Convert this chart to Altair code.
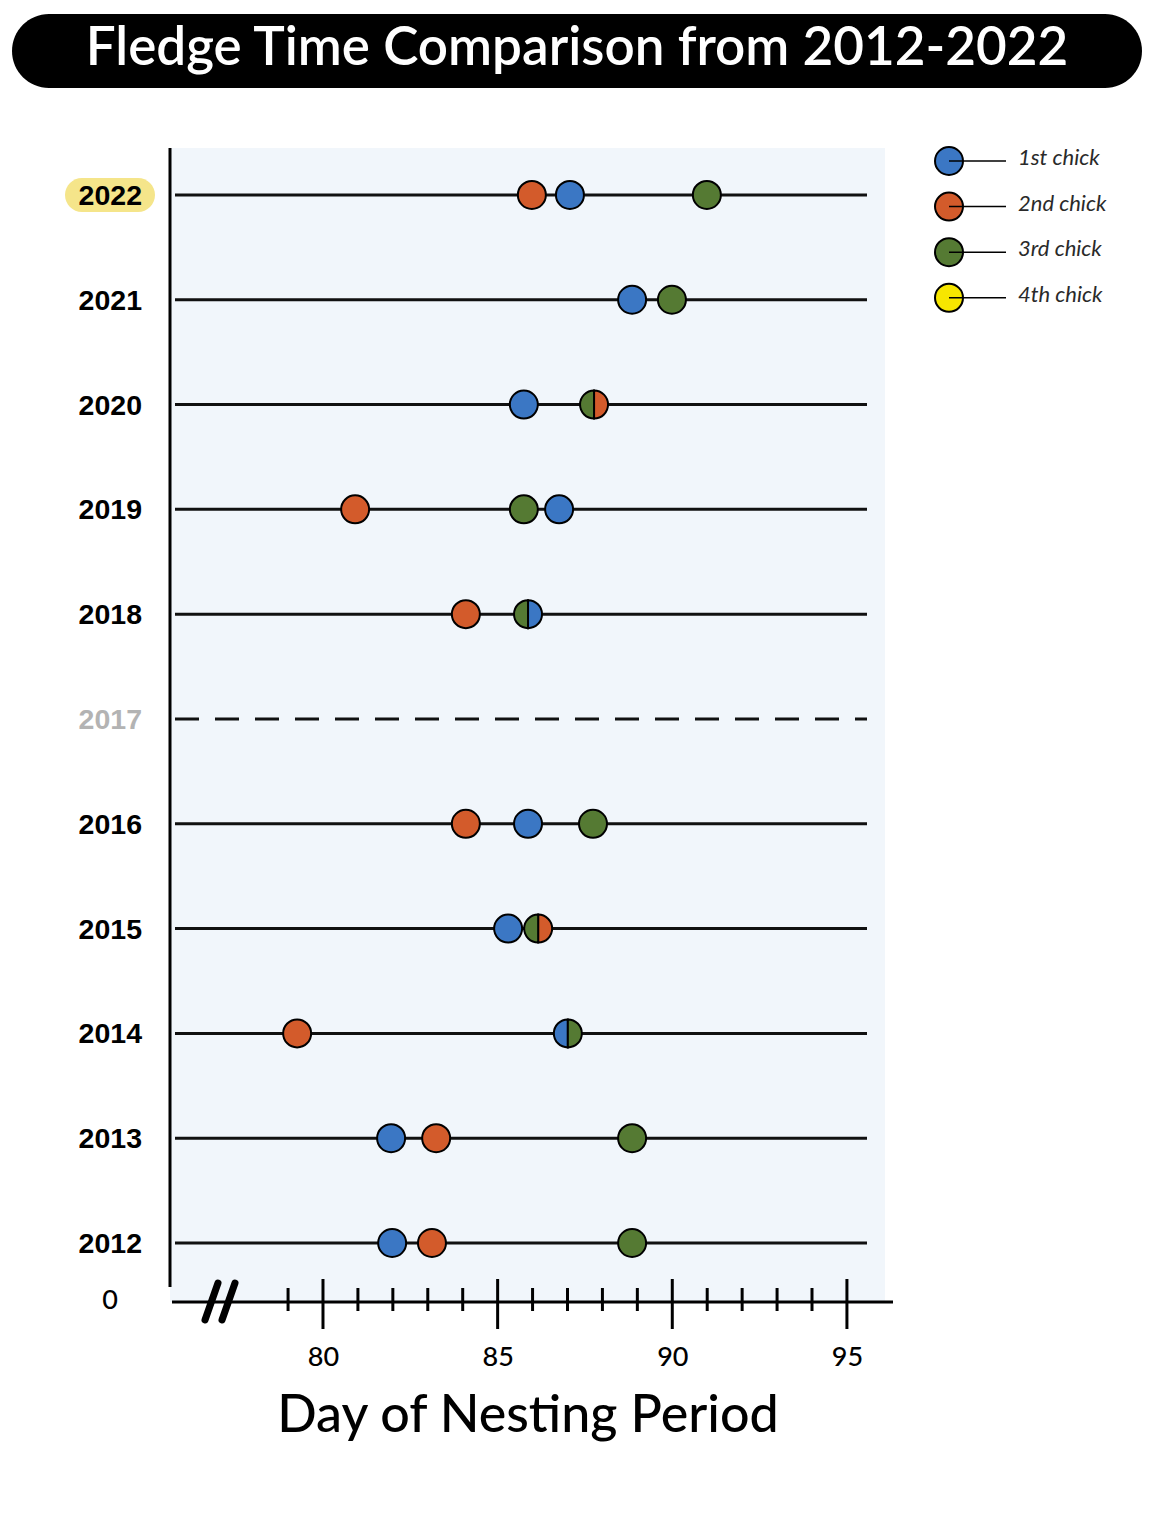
import altair as alt
import pandas as pd

# ---------------- data ----------------
years = [2022, 2021, 2020, 2019, 2018, 2017, 2016, 2015, 2014, 2013, 2012]
chicks = ["1st chick", "2nd chick", "3rd chick", "4th chick"]
chick_colors = ["#3b77c4", "#d35b2b", "#557a33", "#f7e600"]
first_chick = [87.07, 88.85, 85.75, 86.76, 85.87, None, 85.87, 85.30, 87.01, 81.95, 81.98]
second_chick = [85.98, None, 87.76, 80.92, 84.09, None, 84.09, 86.16, 79.26, 83.24, 83.12]
third_chick = [90.99, 89.99, 87.76, 85.75, 85.87, None, 87.73, 86.16, 87.01, 88.85, 88.85]
fourth_chick = [None] * 11
missing_years = [2017]
highlight_year = 2022
# chick drawn on the left half when two chicks fledged on the same day
tie_left = {2020: "3rd chick", 2018: "3rd chick", 2015: "3rd chick", 2014: "1st chick"}
major_ticks = [80, 85, 90, 95]
minor_ticks = [79, 81, 82, 83, 84, 86, 87, 88, 89, 91, 92, 93, 94]

FULL = "M-1,0 A1,1 0 1,1 1,0 A1,1 0 1,1 -1,0 Z"
LEFT = "M0,-1 A1,1 0 0,0 0,1 Z"
RIGHT = "M0,-1 A1,1 0 0,1 0,1 Z"
PILL = "M-0.622,-0.378 L0.622,-0.378 A0.378,0.378 0 0,1 0.622,0.378 L-0.622,0.378 A0.378,0.378 0 0,1 -0.622,-0.378 Z"

series = dict(zip(chicks, [first_chick, second_chick, third_chick, fourth_chick]))
rows = []
for chick, vals in series.items():
    for yr, v in zip(years, vals):
        if v is None:
            continue
        rows.append({"year": yr, "day": v, "chick": chick})
pts = pd.DataFrame(rows)
counts = pts.groupby(["year", "day"])["chick"].transform("count")


def pick_shape(r, c):
    if c < 2:
        return FULL
    return LEFT if tie_left.get(r["year"]) == r["chick"] else RIGHT


pts["shape"] = [pick_shape(r, c) for (_, r), c in zip(pts.iterrows(), counts)]

year_df = pd.DataFrame({"year": years})
year_df["status"] = ["missing" if y in missing_years else "observed" for y in years]
year_df["label"] = year_df["year"].astype(str)

leg_df = pd.DataFrame({"chick": chicks, "i": list(range(len(chicks)))})
major_df = pd.DataFrame({"day": major_ticks})
minor_df = pd.DataFrame({"day": minor_ticks})
one = pd.DataFrame({"a": [0]})

# ---------------- encodings ----------------
W, H = 715, 1154
xscale = alt.Scale(domain=[75.62, 96.09], nice=False, zero=False)
yscale = alt.Scale(domain=[2011.437, 2022.448], nice=False, zero=False)
xaxis = alt.Axis(values=major_ticks, format="d", domain=False, ticks=False, tickSize=0,
                 grid=False, labelFont="Lato", labelFontSize=27, labelColor="black",
                 labelFontWeight=500,
                 labelPadding=42, title="Day of Nesting Period", titleFont="Lato",
                 titleFontSize=52, titleFontWeight=500, titleColor="black",
                 titlePadding=20)


def X(field="day"):
    return alt.X(f"{field}:Q", scale=xscale, axis=xaxis)


def Y():
    return alt.Y("year:Q", scale=yscale, axis=None)


fill_scale = alt.Scale(domain=chicks, range=chick_colors)

# ---------------- layers ----------------
title_box = alt.Chart(one).mark_rect(fill="black", cornerRadius=37).encode(
    x=alt.value(-158), x2=alt.value(972), y=alt.value(-134), y2=alt.value(-60))
title_txt = alt.Chart(one).mark_text(
    text="Fledge Time Comparison from 2012-2022", font="Lato", fontSize=53,
    fontWeight=600, color="white", align="center", baseline="middle").encode(
    x=alt.value(407), y=alt.value(-99))

vline = alt.Chart(one).mark_rule(color="black", strokeWidth=3).encode(
    x=alt.value(0), y=alt.value(0), y2=alt.value(1139))
hline = alt.Chart(one).mark_rule(color="black", strokeWidth=3).encode(
    x=alt.value(2), x2=alt.value(723), y=alt.value(1154))
brk1 = alt.Chart(one).mark_rule(color="black", strokeWidth=7, strokeCap="round").encode(
    x=alt.value(35), x2=alt.value(48), y=alt.value(1172), y2=alt.value(1135))
brk2 = alt.Chart(one).mark_rule(color="black", strokeWidth=7, strokeCap="round").encode(
    x=alt.value(52), x2=alt.value(65), y=alt.value(1172), y2=alt.value(1135))

minor = alt.Chart(minor_df).mark_rule(color="black", strokeWidth=3).encode(
    x=X(), y=alt.value(1140), y2=alt.value(1163))
major = alt.Chart(major_df).mark_rule(color="black", strokeWidth=3).encode(
    x=X(), y=alt.value(1131), y2=alt.value(1181))

rows_solid = alt.Chart(year_df).transform_filter(alt.datum.status == "observed").mark_rule(
    color="#111111", strokeWidth=3).encode(y=Y(), x=alt.value(5), x2=alt.value(697))
rows_dash = alt.Chart(year_df).transform_filter(alt.datum.status == "missing").mark_rule(
    color="#111111", strokeWidth=3, strokeDash=[24, 16]).encode(
    y=Y(), x=alt.value(5), x2=alt.value(697))

pill = alt.Chart(year_df).transform_filter(alt.datum.year == highlight_year).mark_point(
    shape=PILL, size=8100, filled=True, fill="#f5e58a", opacity=1, strokeWidth=0).encode(
    y=Y(), x=alt.value(-60))
ylabels = alt.Chart(year_df).mark_text(
    font="Liberation Sans", fontSize=28.5, fontWeight="bold", align="right",
    baseline="middle", dy=1).encode(
    y=Y(), x=alt.value(-28), text="label:N",
    color=alt.Color("status:N", scale=alt.Scale(domain=["observed", "missing"],
                                                  range=["black", "#b3b3b3"]), legend=None))
zero_lbl = alt.Chart(one).mark_text(
    text="0", font="Lato", fontSize=27, fontWeight=500, align="center", baseline="middle",
    color="black").encode(x=alt.value(-60), y=alt.value(1153))

points = alt.Chart(pts).mark_point(
    filled=True, opacity=1, stroke="black", strokeWidth=2, size=784).encode(
    x=X(), y=Y(),
    fill=alt.Fill("chick:N", scale=fill_scale, legend=None),
    shape=alt.Shape("shape:N", scale=None))

leg_base = alt.Chart(leg_df).transform_calculate(py="13 + datum.i * 45.6")
leg_pts = leg_base.mark_point(
    shape=FULL, filled=True, opacity=1, stroke="black", strokeWidth=2, size=784).encode(
    x=alt.value(779), y=alt.Y("py:Q", scale=None, axis=None),
    fill=alt.Fill("chick:N", scale=fill_scale, legend=None))
leg_lines = leg_base.mark_rule(color="black", strokeWidth=1.5).encode(
    x=alt.value(779), x2=alt.value(836), y=alt.Y("py:Q", scale=None, axis=None))
leg_txt = leg_base.mark_text(
    font="Lato", fontSize=22, fontStyle="italic", fontWeight="normal", align="left",
    baseline="middle", dy=-3, color="#2a2a2a").encode(
    x=alt.value(848), y=alt.Y("py:Q", scale=None, axis=None), text="chick:N")

chart = alt.layer(
    title_box, title_txt, rows_solid, rows_dash, vline, hline, minor, major,
    brk1, brk2, pill, ylabels, zero_lbl, points, leg_pts, leg_lines, leg_txt
).resolve_scale(fill="shared").properties(
    width=W, height=H,
    autosize=alt.AutoSizeParams(type="none"),
    padding={"left": 170, "top": 148, "right": 265, "bottom": 234},
    background="white",
).configure_view(stroke=None, fill="#f1f6fb")

chart.save("out.html", embed_options={"renderer": "svg", "actions": False})
